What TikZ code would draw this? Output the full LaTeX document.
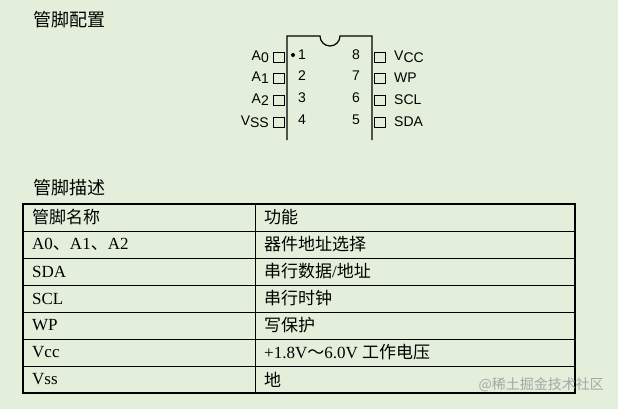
\documentclass[tikz,border=0pt]{standalone}
\usepackage{fontspec}
\setmainfont{Liberation Serif}
\newfontfamily\cjk{Noto Sans CJK SC}
\newfontfamily\hv{Liberation Sans}
\definecolor{bg}{HTML}{E3EFDA}
\newcommand{\sbs}[1]{\raisebox{-0.3ex}{#1}}
\begin{document}
\begin{tikzpicture}[x=1pt,y=-1pt,
  pin/.style={draw,line width=0.8pt,minimum width=11pt,minimum height=10pt,inner sep=0pt},
  plab/.style={font=\hv\fontsize{14}{14}\selectfont,inner sep=0pt},
  cell/.style={anchor=west,inner sep=0pt,font=\fontsize{17}{17}\selectfont},
  ttl/.style={anchor=west,inner sep=0pt,font=\cjk\fontsize{18}{18}\selectfont}]
\fill[bg] (0,0) rectangle (618,409);
\useasboundingbox (0,0) rectangle (618,409);
\node[ttl] (t1) at (33,20) {管脚配置};
\node[ttl] (t2) at (33,188) {管脚描述};
% chip
\draw[line width=1.2pt] (287,140) -- (287,36) -- (320,36) arc[start angle=180,end angle=0,radius=10] -- (372,36) -- (372,140);
\foreach \y/\n/\m/\l/\r [count=\i] in {57/1/8/A\sbs{0}/V\sbs{CC},78/2/7/A\sbs{1}/WP,100/3/6/A\sbs{2}/SCL,122/4/5/V\sbs{SS}/SDA}{
  \node[pin] (lp\i) at (279,\y) {};
  \node[pin] (rp\i) at (380,\y) {};
  \node[plab,anchor=east] (ll\i) at (269,\y) {\l};
  \node[plab,anchor=west] (rl\i) at (394,\y) {\r};
  \node[plab] (ln\i) at (302,\y-2) {\n};
  \node[plab] (rn\i) at (356,\y-2) {\m};
}
\fill (293,55) circle (2pt);
% table
\draw[line width=1.2pt] (23,204) rectangle (575,393);
\foreach \y in {231,258,285,312,339,366} \draw[line width=1pt] (23,\y) -- (575,\y);
\draw[line width=1pt] (255,204) -- (255,393);
\foreach \a/\b [count=\i] in {{\cjk 管脚名称}/{\cjk 功能},A0{\cjk 、}A1{\cjk 、}A2/{\cjk 器件地址选择},SDA/{{\cjk 串行数据}{/}{\cjk 地址}},SCL/{\cjk 串行时钟},WP/{\cjk 写保护},Vcc/+1.8V{\cjk ～}6.0V {\cjk 工作电压},Vss/{\cjk 地}}{
  \node[cell] (a\i) at (32,217.5+27*\i-27) {\a};
  \node[cell] (b\i) at (264,217.5+27*\i-27) {\b};
}
\node[anchor=east,inner sep=0pt,text=gray!70,font=\cjk\fontsize{14}{14}\selectfont] (wm) at (604,385) {@稀土掘金技术社区};
\end{tikzpicture}
\end{document}
